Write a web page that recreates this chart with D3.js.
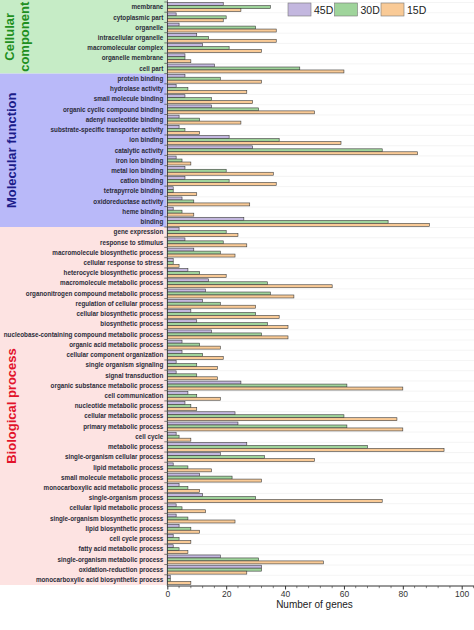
<!DOCTYPE html>
<html>
<head>
<meta charset="utf-8">
<script src="https://cdn.jsdelivr.net/npm/d3@7"></script>
<style>
  body { margin: 0; background: #fff; }
  text { font-family: "Liberation Sans", Arial, sans-serif; }
</style>
</head>
<body>
<div id="chart"></div>
<script>
const groups = ['Cellular component', 'Molecular function', 'Biological process'];

const cellular = ['membrane', 'cytoplasmic part', 'organelle', 'intracellular organelle',
  'macromolecular complex', 'organelle membrane', 'cell part'];

const molecular = ['protein binding', 'hydrolase activity', 'small molecule binding',
  'organic cyclic compound binding', 'adenyl nucleotide binding',
  'substrate-specific transporter activity', 'ion binding', 'catalytic activity',
  'iron ion binding', 'metal ion binding', 'cation binding', 'tetrapyrrole binding',
  'oxidoreductase activity', 'heme binding', 'binding'];

const biological = ['gene expression', 'response to stimulus', 'macromolecule biosynthetic process',
  'cellular response to stress', 'heterocycle biosynthetic process',
  'macromolecule metabolic process', 'organonitrogen compound metabolic process',
  'regulation of cellular process', 'cellular biosynthetic process', 'biosynthetic process',
  'nucleobase-containing compound metabolic process', 'organic acid metabolic process',
  'cellular component organization', 'single organism signaling', 'signal transduction',
  'organic substance metabolic process', 'cell communication', 'nucleotide metabolic process',
  'cellular metabolic process', 'primary metabolic process', 'cell cycle', 'metabolic process',
  'single-organism cellular process', 'lipid metabolic process', 'small molecule metabolic process',
  'monocarboxylic acid metabolic process', 'single-organism process',
  'cellular lipid metabolic process', 'single-organism biosynthetic process',
  'lipid biosynthetic process', 'cell cycle process', 'fatty acid metabolic process',
  'single-organism metabolic process', 'oxidation-reduction process',
  'monocarboxylic acid biosynthetic process'];

const series = ['45D', '30D', '15D'];

// gene counts per term, same order as the term lists above
const d45 = [19, 3, 4, 10, 12, 6, 16,
  6, 3, 6, 15, 4, 4, 21, 29, 3, 6, 6, 2, 5, 2, 26,
  4, 6, 9, 2, 7, 14, 13, 12, 8, 10, 15, 5, 5, 3, 3, 25, 7, 6, 23, 24, 3, 27,
  18, 2, 11, 4, 12, 3, 3, 4, 2, 2, 18, 32, 1];
const d30 = [35, 20, 30, 14, 21, 6, 45,
  18, 7, 15, 31, 11, 6, 38, 73, 5, 20, 21, 2, 9, 5, 75,
  20, 19, 18, 2, 11, 34, 35, 18, 30, 34, 32, 11, 12, 10, 10, 61, 10, 8, 60, 61, 4, 68,
  33, 7, 22, 7, 30, 5, 7, 8, 4, 4, 31, 32, 1];
const d15 = [25, 19, 37, 37, 32, 8, 60,
  32, 27, 29, 50, 25, 11, 59, 85, 8, 36, 37, 10, 28, 9, 89,
  24, 27, 23, 4, 20, 56, 43, 30, 38, 41, 41, 18, 19, 17, 17, 80, 18, 10, 78, 80, 8, 94,
  50, 15, 32, 11, 73, 13, 23, 11, 8, 7, 53, 27, 8];

const xTicks = [0, 20, 40, 60, 80, 100];

const terms = [...cellular, ...molecular, ...biological];
const groupTerms = [cellular, molecular, biological];
const values = [d45, d30, d15];

const rows = terms.map((t, i) => ({ term: t, vals: series.map((s, k) => ({ s, v: values[k][i] })) }));

const W = 474, H = 630;
const plotLeft = 167.3, plotTop = 2, plotBottom = 585;

const svg = d3.select('#chart').append('svg')
    .attr('width', W)
    .attr('height', H);

const x = d3.scaleLinear().domain([0, 104.5]).range([plotLeft, plotLeft + 104.5 * 2.944]);

const y = d3.scaleBand()
    .domain(terms)
    .range([plotTop, plotBottom]);

const inner = d3.scaleBand()
    .domain(series)
    .range([0, y.bandwidth()])
    .paddingOuter(0.22)
    .paddingInner(0);

const color = d3.scaleOrdinal().domain(series).range(['#c3b7df', '#9fd49b', '#f9ca96']);

const bandFill = ['#c6ecc6', '#b9b9f9', '#fde3e2'];
const labelFill = ['#1f8f1f', '#1c1c8a', '#e2132b'];

// group background bands
const bands = groupTerms.map((g, i) => ({
  i,
  y0: i === 0 ? 0 : y(g[0]),
  y1: y(g[g.length - 1]) + y.bandwidth()
}));

svg.selectAll('.band')
  .data(bands)
  .join('rect')
    .attr('class', 'band')
    .attr('x', 0)
    .attr('y', d => d.y0)
    .attr('width', plotLeft - 1)
    .attr('height', d => d.y1 - d.y0)
    .attr('fill', d => bandFill[d.i]);

// faint grid lines at row boundaries
svg.append('g')
  .selectAll('line')
  .data(terms)
  .join('line')
    .attr('x1', plotLeft)
    .attr('x2', W)
    .attr('y1', d => y(d) + 0.5)
    .attr('y2', d => y(d) + 0.5)
    .attr('stroke', '#ececec')
    .attr('stroke-width', 0.6);

// group labels
const glab = svg.append('g');
glab.append('text')
    .attr('transform', `translate(15,${(bands[0].y0 + bands[0].y1) / 2}) rotate(-90)`)
    .attr('text-anchor', 'middle')
    .attr('font-size', 13)
    .attr('font-weight', 'bold')
    .attr('fill', labelFill[0])
    .call(t => t.append('tspan').attr('x', 0).attr('dy', '-0.1em').text('Cellular'))
    .call(t => t.append('tspan').attr('x', 0).attr('dy', '1.15em').text('component'));

[1, 2].forEach(i => {
  glab.append('text')
      .attr('transform', `translate(16,${(bands[i].y0 + bands[i].y1) / 2}) rotate(-90)`)
      .attr('text-anchor', 'middle')
      .attr('font-size', 13)
      .attr('font-weight', 'bold')
      .attr('fill', labelFill[i])
      .text(groups[i]);
});

// term labels
svg.append('g')
  .selectAll('text')
  .data(terms)
  .join('text')
    .attr('x', plotLeft - 4)
    .attr('y', d => y(d) + y.bandwidth() / 2)
    .attr('dy', '0.35em')
    .attr('text-anchor', 'end')
    .attr('font-size', 6.3)
    .attr('font-weight', 'bold')
    .attr('fill', '#2b2b38')
    .text(d => d);

// bars
svg.append('g')
  .selectAll('g')
  .data(rows)
  .join('g')
    .attr('transform', d => `translate(0,${y(d.term)})`)
  .selectAll('rect')
  .data(d => d.vals)
  .join('rect')
    .attr('x', x(0))
    .attr('y', d => inner(d.s))
    .attr('width', d => x(d.v) - x(0))
    .attr('height', inner.bandwidth())
    .attr('fill', d => color(d.s))
    .attr('stroke', '#3b3b3b')
    .attr('stroke-width', 0.6);

// y axis with ticks at row boundaries
const yAxis = svg.append('g');
yAxis.append('line')
    .attr('x1', plotLeft).attr('x2', plotLeft)
    .attr('y1', 0).attr('y2', plotBottom + 1)
    .attr('stroke', '#333').attr('stroke-width', 0.8);
yAxis.selectAll('.yt')
  .data(terms)
  .join('line')
    .attr('class', 'yt')
    .attr('x1', plotLeft - 3).attr('x2', plotLeft)
    .attr('y1', d => y(d)).attr('y2', d => y(d))
    .attr('stroke', '#333').attr('stroke-width', 0.6);

// x axis
const xAxis = svg.append('g')
    .attr('transform', `translate(0,${plotBottom + 1})`)
    .call(d3.axisBottom(x).tickValues(xTicks).tickSize(3.5).tickPadding(1));
xAxis.select('.domain').attr('stroke', '#333').attr('d', `M${plotLeft},0H${W}`);
xAxis.selectAll('.tick line').attr('stroke', '#333');
xAxis.selectAll('.tick text')
    .attr('font-family', '"Liberation Sans", Arial, sans-serif')
    .attr('font-size', 8.5)
    .attr('fill', '#333');

xAxis.selectAll('.minor')
  .data(d3.range(0, 105, 4).filter(v => v % 20 !== 0))
  .join('line')
    .attr('class', 'minor')
    .attr('x1', d => x(d)).attr('x2', d => x(d))
    .attr('y1', 0).attr('y2', 2.2)
    .attr('stroke', '#333').attr('stroke-width', 0.6);

svg.append('text')
    .attr('x', (x(0) + x(100)) / 2)
    .attr('y', 607.5)
    .attr('text-anchor', 'middle')
    .attr('font-size', 10)
    .attr('fill', '#222')
    .text('Number of genes');

// legend
const legend = svg.append('g')
  .selectAll('g')
  .data(series)
  .join('g')
    .attr('transform', (d, i) => `translate(${288 + i * 46.5},3)`);
legend.append('rect')
    .attr('width', 23)
    .attr('height', 13)
    .attr('fill', d => color(d))
    .attr('stroke', '#777')
    .attr('stroke-width', 0.6);
legend.append('text')
    .attr('x', 26)
    .attr('y', 11)
    .attr('font-size', 10.5)
    .attr('fill', '#222')
    .text(d => d);
</script>
</body>
</html>
